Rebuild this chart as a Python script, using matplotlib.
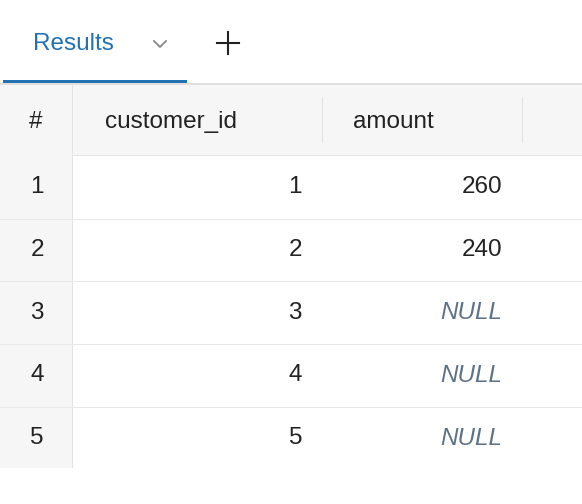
import matplotlib
matplotlib.use("Agg")
import matplotlib.pyplot as plt
from matplotlib.patches import Rectangle

columns = ["#", "customer_id", "amount"]
row_ids = [1, 2, 3, 4, 5]
customer_id = [1, 2, 3, 4, 5]
amount = [260, 240, None, None, None]

fig = plt.figure(figsize=(5.82, 5.04), dpi=100)
ax = fig.add_axes([0, 0, 1, 1])
ax.set_xlim(0, 582); ax.set_ylim(504, 0); ax.axis("off")
plt.rcParams['font.family'] = ['Liberation Sans', 'DejaVu Sans']
fs = 17.5

# tab bar
ax.text(33, 44, "Results", color="#2272b4", fontsize=17.5, va="center")
ax.plot([154, 160, 166], [41, 47, 41], color="#888888", lw=1.3)
ax.plot([217, 239], [43, 43], color="#222222", lw=1.5)
ax.plot([228, 228], [32, 54], color="#222222", lw=1.5)
ax.add_patch(Rectangle((0, 83), 582, 1.5, color="#e0e0e0", lw=0))
ax.add_patch(Rectangle((3, 80), 184, 3, color="#2272b4", lw=0))

# header
ax.add_patch(Rectangle((0, 85), 582, 70, color="#f6f6f6", lw=0))
ax.add_patch(Rectangle((0, 155), 582, 1, color="#e3e3e3", lw=0))
ax.add_patch(Rectangle((0, 155), 73, 313, color="#f6f6f6", lw=0))
ax.add_patch(Rectangle((72, 85), 1, 383, color="#e3e3e3", lw=0))
for x in [322, 522]:
    ax.add_patch(Rectangle((x, 97), 1.2, 46, color="#e0e0e0", lw=0))
hx = [29, 105, 353]
for x, c in zip(hx, columns):
    ax.text(x, 122, c, fontsize=fs, color="#222222", va="center")

row_h = 62.7
y0 = 156
for i, rid in enumerate(row_ids):
    yc = y0 + row_h * (i + 0.5)
    if i < len(row_ids) - 1:
        ax.add_patch(Rectangle((0, y0 + row_h * (i + 1)), 582, 1, color="#e8e8e8", lw=0))
    ax.text(37, yc, str(rid), fontsize=fs, color="#222222", va="center", ha="center")
    ax.text(302, yc, str(customer_id[i]), fontsize=fs, color="#222222", va="center", ha="right")
    if amount[i] is None:
        ax.text(502, yc, "NULL", fontsize=fs, color="#5f7285", va="center", ha="right", style="italic")
    else:
        ax.text(502, yc, str(amount[i]), fontsize=fs, color="#222222", va="center", ha="right")

fig.savefig("out.png", dpi=100, facecolor="white")
